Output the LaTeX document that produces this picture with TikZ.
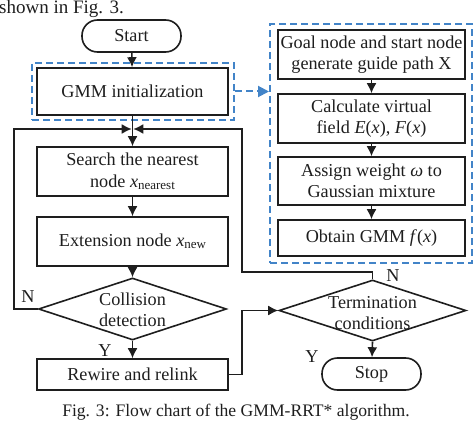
\documentclass[tikz,border=0pt]{standalone}
\usepackage{fontspec}
\setmainfont{Liberation Serif}
\usetikzlibrary{arrows.meta,shapes.geometric}
\definecolor{lineblk}{RGB}{30,30,30}
\definecolor{guideblue}{RGB}{66,132,200}
\newcommand\mysubtxt[1]{\raisebox{-0.25ex}{\fontsize{13}{13}\selectfont #1}}
\tikzset{
  base/.style={font=\fontsize{18.2}{21.5}\selectfont, text=lineblk, align=center, inner sep=0pt},
  procbox/.style={base, draw=lineblk, line width=1.6pt, rectangle},
  termbox/.style={base, draw=lineblk, line width=1.6pt, rectangle, rounded corners=15.5pt},
  decbox/.style={draw=lineblk, line width=1.6pt, diamond, inner sep=0pt, shape aspect=3},
  guidebox/.style={draw=guideblue, line width=2pt, dash pattern=on 7pt off 4pt, rectangle, inner sep=0pt},
  flow/.style={draw=lineblk, line width=1.6pt, -{Latex[length=10pt,width=10pt]}},
  guideflow/.style={draw=guideblue, line width=2pt, dash pattern=on 7pt off 4pt, -{Triangle[length=11pt,width=11pt]}},
  lbl/.style={base, font=\fontsize{18.2}{21.5}\selectfont},
}
\begin{document}
\begin{tikzpicture}[x=1pt,y=-1pt]
\useasboundingbox (0,0) rectangle (474,425);
\clip (0,0) rectangle (474,425);
% surrounding text of the page
\node[base, anchor=base west, font=\fontsize{19}{22}\selectfont] (prevtext) at (-1,14) {shown in Fig. 3.};
\node[base, anchor=base, font=\fontsize{17.6}{21}\selectfont] (caption) at (236,416) {Fig. 3: Flow chart of the GMM-RRT* algorithm.};

% left column
\node[termbox, minimum width=99pt, minimum height=32pt] (start) at (131.5,36) {Start};
\node[procbox, minimum width=191pt, minimum height=47pt] (gmm) at (132.5,91.5) {GMM initialization};
\node[guidebox, minimum width=202pt, minimum height=57pt] (gmmguide) at (133,91.5) {};
\node[procbox, minimum width=191pt, minimum height=49pt] (search) at (132.5,171.5) {Search the nearest\\node \textit{x}\mysubtxt{nearest}};
\node[procbox, minimum width=191pt, minimum height=49pt] (ext) at (132.5,241.5) {Extension node \textit{x}\mysubtxt{new}};
\node[decbox, minimum width=188pt, minimum height=62pt] (coll) at (132.5,309) {};
\node[base] (colltext) at (132.5,310) {Collision\\detection};
\node[procbox, minimum width=191pt, minimum height=31pt] (rewire) at (132.5,374.5) {Rewire and relink};

% right column
\node[guidebox, minimum width=202pt, minimum height=239pt] (rguide) at (371,143.5) {};
\node[procbox, minimum width=187pt, minimum height=49pt] (goal) at (371.5,54.5) {Goal node and start node\\generate guide path X};
\node[procbox, minimum width=187pt, minimum height=49pt] (calc) at (371.5,118.5) {Calculate virtual\\field \textit{E}(\textit{x}), \textit{F}(\textit{x})};
\node[procbox, minimum width=187pt, minimum height=48pt] (assign) at (371.5,181) {Assign weight \textit{ω} to\\Gaussian mixture};
\node[procbox, minimum width=187pt, minimum height=36pt] (obtain) at (371.5,238) {Obtain GMM \textit{f}(\textit{x})};
\node[decbox, minimum width=187pt, minimum height=61pt] (term) at (372.5,310.5) {};
\node[base] (termtext) at (372.5,313) {Termination\\conditions};
\node[termbox, minimum width=99pt, minimum height=32pt] (stop) at (371.5,374) {Stop};

% junction coordinates
\coordinate (join) at (132.5,129);
\coordinate (lefttop) at (14,129);
\coordinate (leftbot) at (14,309);
\coordinate (righttop) at (242,129);
\coordinate (rightmid) at (242,272);
\coordinate (termtop) at (372.5,272);
\coordinate (rwup) at (242,310.5);
\coordinate (rwout) at (242,374.5);

% connectors
\draw[flow] (start) -- (gmm);
\draw[flow] (gmm) -- (search);
\draw[flow, shorten >=0.8pt] (coll.west) -- (leftbot) -- (lefttop) -- (join);
\draw[flow, shorten >=0.8pt] (term.north) -- (termtop) -- (rightmid) -- (righttop) -- (join);
\draw[flow] (search) -- (ext);
\draw[flow] (ext) -- (coll.north);
\draw[flow] (coll.south) -- (rewire);
\draw[flow] (rewire.east) -- (rwout) -- (rwup) -- (term.west);
\draw[flow] (term.south) -- (stop);
\draw[flow] (goal) -- (calc);
\draw[flow] (calc) -- (assign);
\draw[flow] (assign) -- (obtain);
\draw[guideflow] (gmmguide.east) -- (gmmguide.east -| rguide.west);

% branch labels
\node[lbl] (n1) at (28,297) {N};
\node[lbl] (y1) at (105,351) {Y};
\node[lbl] (n2) at (393,276) {N};
\node[lbl] (y2) at (312,357) {Y};
\end{tikzpicture}
\end{document}
